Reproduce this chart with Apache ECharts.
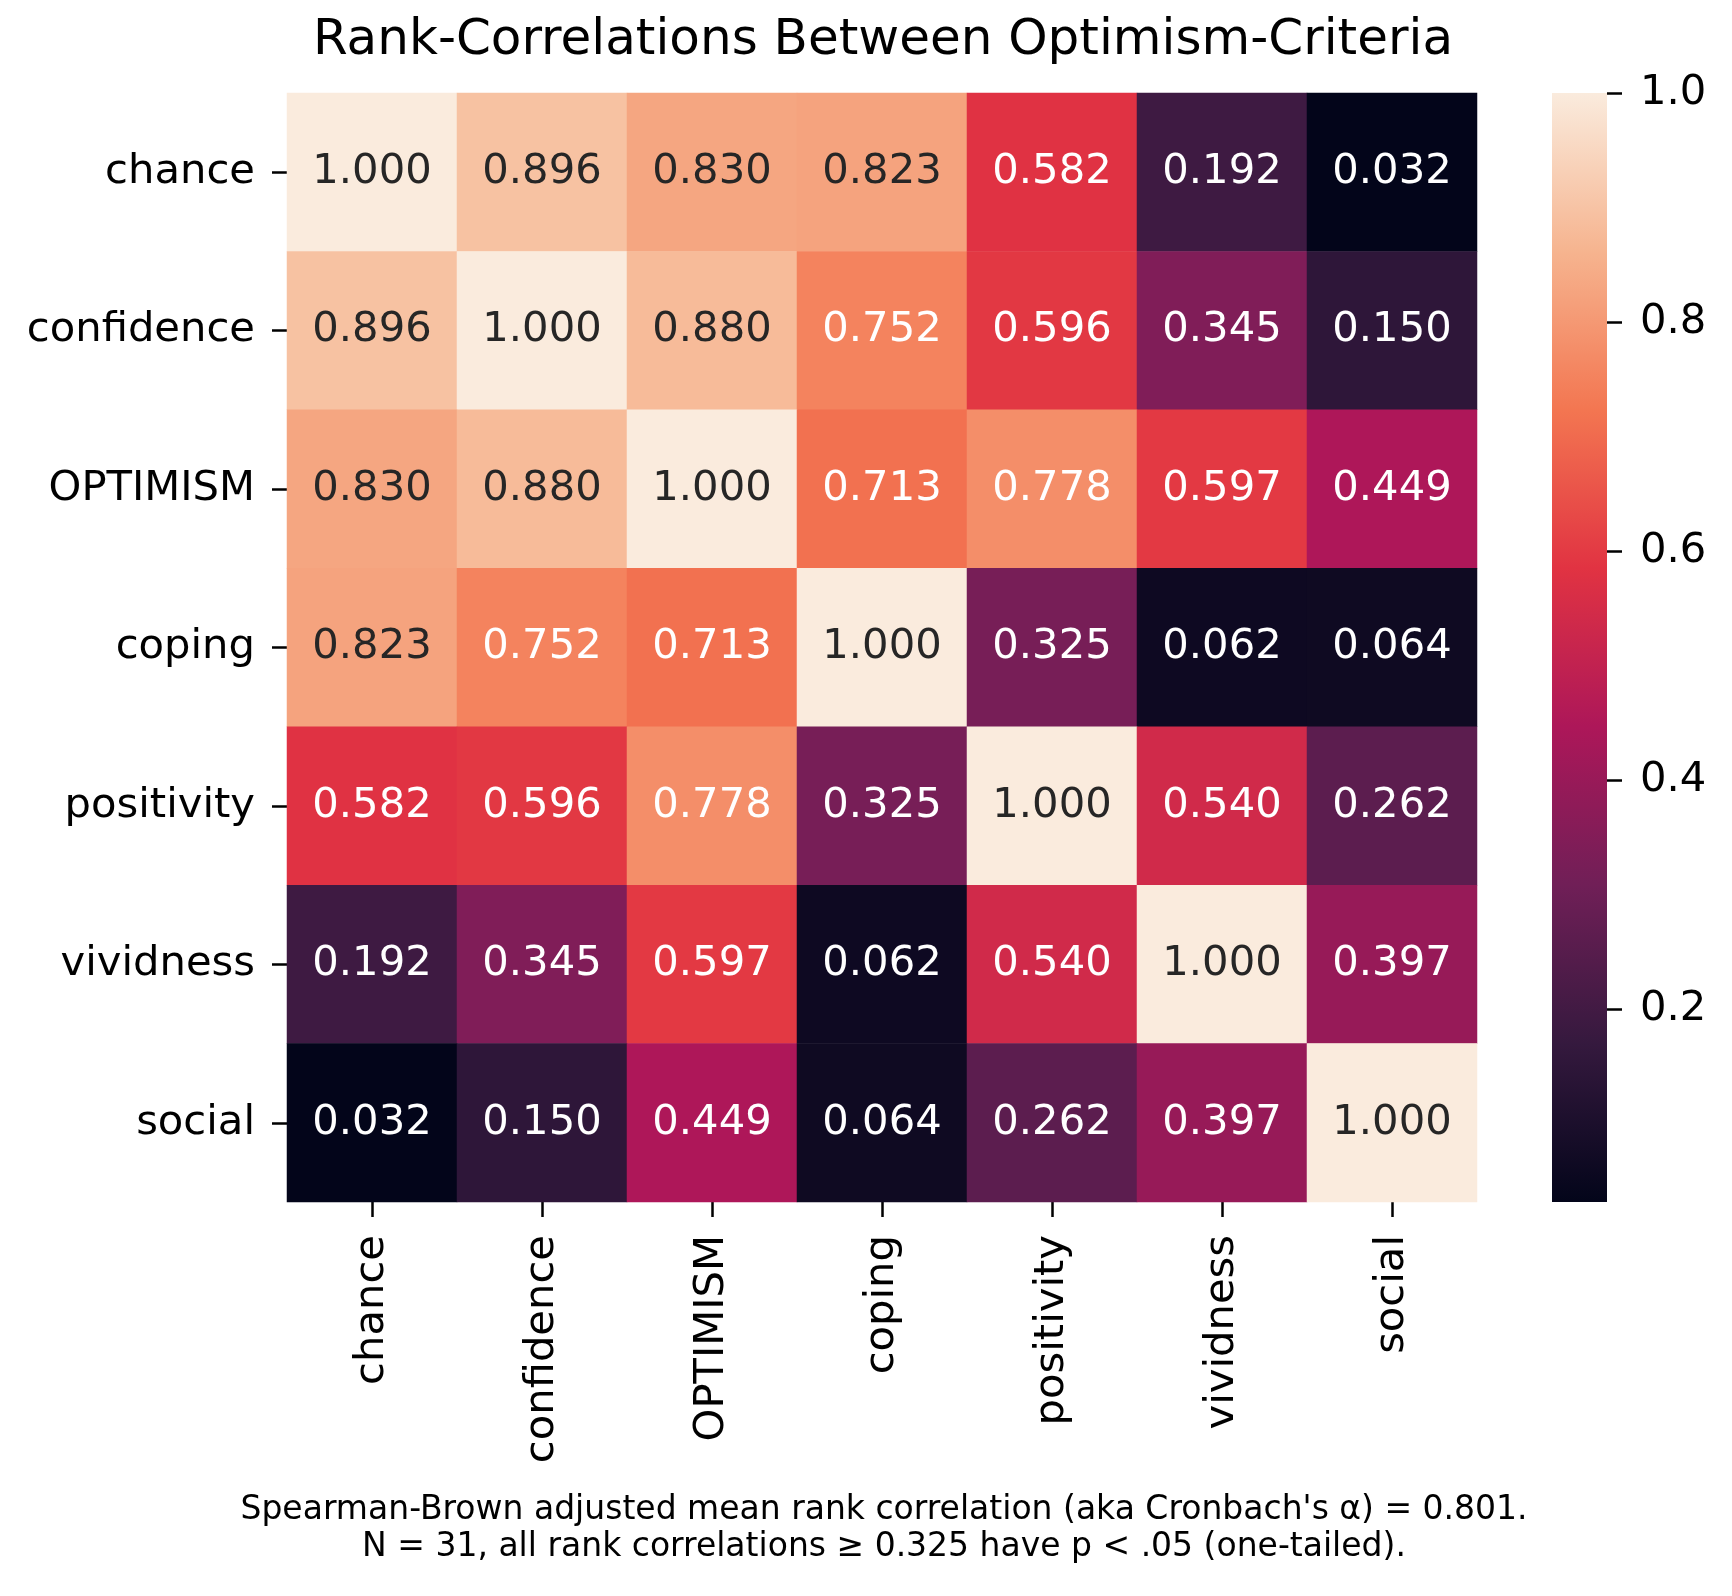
<!DOCTYPE html>
<html>
<head>
<meta charset="utf-8">
<script src="https://cdn.jsdelivr.net/npm/echarts@6/dist/echarts.min.js"></script>
<style>
html,body{margin:0;padding:0;background:#fff;}
#chart{width:1732px;height:1596px;}
</style>
</head>
<body>
<div id="chart"></div>
<script>
// ---- data ----
const categories = ['chance', 'confidence', 'OPTIMISM', 'coping', 'positivity', 'vividness', 'social'];
const rowChance     = [1.000, 0.896, 0.830, 0.823, 0.582, 0.192, 0.032];
const rowConfidence = [0.896, 1.000, 0.880, 0.752, 0.596, 0.345, 0.150];
const rowOptimism   = [0.830, 0.880, 1.000, 0.713, 0.778, 0.597, 0.449];
const rowCoping     = [0.823, 0.752, 0.713, 1.000, 0.325, 0.062, 0.064];
const rowPositivity = [0.582, 0.596, 0.778, 0.325, 1.000, 0.540, 0.262];
const rowVividness  = [0.192, 0.345, 0.597, 0.062, 0.540, 1.000, 0.397];
const rowSocial     = [0.032, 0.150, 0.449, 0.064, 0.262, 0.397, 1.000];
const colorbarTicks = [0.2, 0.4, 0.6, 0.8, 1.0];
const titleText = 'Rank-Correlations Between Optimism-Criteria';
const noteLines = [
  "Spearman-Brown adjusted mean rank correlation (aka Cronbach's \u03b1) = 0.801.",
  "N = 31, all rank correlations \u2265 0.325 have p < .05 (one-tailed)."
];

// ---- build ----
const rows = [rowChance, rowConfidence, rowOptimism, rowCoping, rowPositivity, rowVividness, rowSocial];
const vmin = Math.min(...rows.flat());
const vmax = Math.max(...rows.flat());
const heatData = [];
rows.forEach((r, yi) => r.forEach((v, xi) => heatData.push([xi, yi, v])));

const rocket = ['#03051a', '#35193e', '#701f57', '#ad1759', '#e13342', '#f37651', '#f6b48f', '#faebdd'];
const FONT = 'DejaVu Sans';
const FS = 41.7;

const GL = 287, GT = 93, GW = 1190, GH = 1109;
const CBL = 1552, CBW = 55;

// gradient for the colorbar (bottom = vmin, top = vmax), same stops as the visualMap
const cbGradient = new echarts.graphic.LinearGradient(0, 1, 0, 0,
  rocket.map((c, i) => ({offset: i / (rocket.length - 1), color: c})));

const chart = echarts.init(document.getElementById('chart'), null, {renderer: 'canvas'});
chart.setOption({
  backgroundColor: '#ffffff',
  animation: false,
  textStyle: {fontFamily: FONT},
  grid: [
    {left: GL, top: GT, width: GW, height: GH},
    {left: CBL, top: GT, width: CBW, height: GH, show: true, backgroundColor: cbGradient, borderWidth: 0}
  ],
  xAxis: [
    {
      type: 'category', data: categories, gridIndex: 0, position: 'bottom',
      axisLine: {show: false},
      axisTick: {show: true, length: 15, alignWithLabel: true, lineStyle: {color: '#000', width: 2.5}},
      axisLabel: {rotate: 90, margin: 33, color: '#000', fontSize: FS, fontFamily: FONT},
      splitLine: {show: false}
    },
    {type: 'value', gridIndex: 1, show: false, min: 0, max: 1}
  ],
  yAxis: [
    {
      type: 'category', data: categories, gridIndex: 0, inverse: true,
      axisLine: {show: false},
      axisTick: {show: true, length: 15, alignWithLabel: true, lineStyle: {color: '#000', width: 2.5}},
      axisLabel: {margin: 32, color: '#000', fontSize: FS, fontFamily: FONT},
      splitLine: {show: false}
    },
    {
      type: 'value', gridIndex: 1, position: 'right', min: vmin, max: vmax, z: 10,
      axisLine: {show: false, onZero: false},
      axisTick: {show: true, length: 15, customValues: colorbarTicks, lineStyle: {color: '#000', width: 2.5}},
      axisLabel: {show: true, customValues: colorbarTicks, margin: 33, color: '#000', fontSize: FS, fontFamily: FONT,
        formatter: v => Number(v).toFixed(1)},
      splitLine: {show: false}
    }
  ],
  visualMap: {
    type: 'continuous', min: vmin, max: vmax, seriesIndex: 0, show: false,
    inRange: {color: rocket}
  },
  series: [
    {
      type: 'heatmap', xAxisIndex: 0, yAxisIndex: 0,
      data: heatData.map(d => ({value: d, label: {color: d[2] >= 0.8 ? '#262626' : '#ffffff'}})),
      itemStyle: {borderWidth: 0},
      label: {
        show: true, fontSize: FS, fontFamily: FONT,
        formatter: p => p.value[2].toFixed(3)
      },
      emphasis: {disabled: true}
    },
    {type: 'scatter', xAxisIndex: 1, yAxisIndex: 1, data: [], silent: true}
  ],
  graphic: [
    {type: 'text', x: 883, y: 66, style: {text: titleText, font: '50px "DejaVu Sans"', fill: '#000', textAlign: 'center', textVerticalAlign: 'bottom'}},
    {type: 'text', x: 884, y: 1510, style: {text: noteLines[0], font: '33px "DejaVu Sans"', fill: '#000', textAlign: 'center', textVerticalAlign: 'middle'}},
    {type: 'text', x: 884, y: 1547, style: {text: noteLines[1], font: '33px "DejaVu Sans"', fill: '#000', textAlign: 'center', textVerticalAlign: 'middle'}}
  ]
});
</script>
</body>
</html>
